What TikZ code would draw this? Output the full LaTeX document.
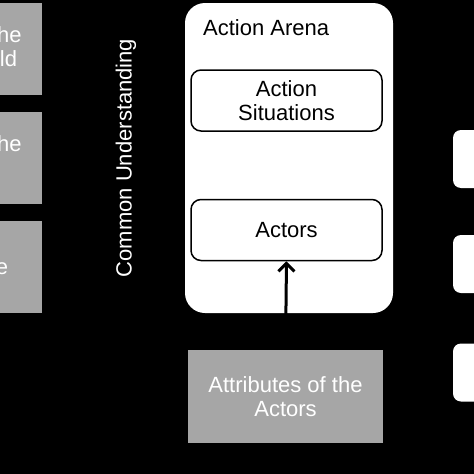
\documentclass[tikz,border=0pt]{standalone}
\usepackage{fontspec}
\setmainfont{Liberation Sans}
\usetikzlibrary{arrows.meta}
\definecolor{boxgray}{RGB}{166,166,166}
\begin{document}
\begin{tikzpicture}
[x=1pt,y=-1pt,
  font=\fontsize{22}{24.5}\selectfont,
  graydecorate/.style={shape=rectangle,fill=boxgray,text=white,align=center,
    minimum width=195pt,inner sep=0pt},%
  whitedecorate/.style={shape=rectangle,fill=white,rounded corners=8pt,
    minimum width=67pt,minimum height=58pt,inner sep=0pt},%
  innerdecorate/.style={shape=rectangle,draw=black,line width=1.5pt,fill=white,
    rounded corners=10pt,align=center,minimum width=191pt,minimum height=61pt,
    inner sep=0pt},%
  linedecorate/.style={-{Straight Barb[length=8pt,width=16pt]},line width=3pt}]
\fill[black] (0,0) rectangle (474,474);
\useasboundingbox (0,0) rectangle (474,474);
\clip (0,0) rectangle (474,474);
%% boxes on the left
\foreach \nodename/\y/\label in {world/49/{Attributes of the\\Physical World},
  community/158/{Attributes of the\\Community}, rules/267/{Rules-in-Use}} {
  \node (\nodename) at (-55.5,\y) [graydecorate,minimum height=92pt] {\label};
}
\node (common) at (126,158) [rotate=90,text=white] {Common Understanding};
%% action arena
\node (arena) at (289,158) [shape=rectangle,fill=white,rounded corners=20pt,
  minimum width=208pt,minimum height=310pt] {};
\node (arenalabel) at (203,28) [anchor=west,inner sep=0pt] {Action Arena};
\node (situations) at (286.5,100.5) [innerdecorate] {Action\\Situations};
\node (actors) at (286.5,230) [innerdecorate] {Actors};
\node (attributes) at (285.5,396.5) [graydecorate,minimum height=93pt]
  {Attributes of the\\Actors};
%% boxes on the right
\foreach \nodename/\y in {outa/159, outb/264, outc/372.5} {
  \node (\nodename) at (486.5,\y) [whitedecorate] {};
}
%% arrow
\draw[linedecorate] (attributes.north) -- (actors.south);
\end{tikzpicture}
\end{document}
